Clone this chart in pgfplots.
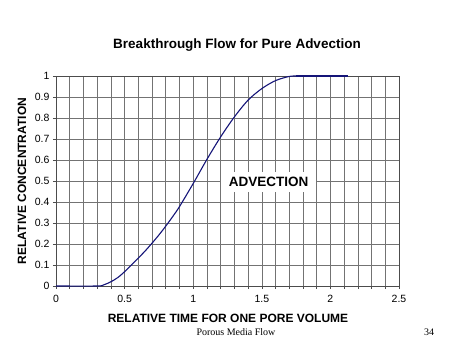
\documentclass[border=0pt]{standalone}
\usepackage{pgfplots}
\pgfplotsset{compat=1.18}
\usepackage{fontspec}
\setmainfont{Liberation Sans}
\newfontfamily\seriffont{Liberation Serif}
\definecolor{navy}{RGB}{20,20,120}
\begin{document}
\begin{tikzpicture}[x=1pt,y=1pt]
\path[use as bounding box] (-56,-69) rectangle (418,286);
\begin{axis}[
  at={(0,0)}, anchor=origin,
  scale only axis, width=343pt, height=210pt,
  xmin=0, xmax=2.5, ymin=0, ymax=1,
  xtick={0,0.5,...,2.5}, xticklabels={0,0.5,1,1.5,2,2.5},
  minor x tick num=4,
  ytick={0,0.1,...,1.0}, yticklabels={0,0.1,0.2,0.3,0.4,0.5,0.6,0.7,0.8,0.9,1},
  grid=both,
  major grid style={draw=black!55, line width=0.6pt},
  minor grid style={draw=black!55, line width=0.6pt},
  axis line style={draw=black!70, line width=0.7pt},
  tick align=outside, tick pos=left,
  major tick length=3pt, minor tick length=3pt,
  tick style={draw=black!70, line width=0.6pt},
  ticklabel style={font=\fontsize{10.5}{12}\selectfont},
  /pgf/number format/assume math mode=true,
  xticklabel style={yshift=-3pt},
  clip=false,
]
\addplot[navy, line width=1.1pt, smooth, tension=0.5] coordinates {
(0,0) (0.3,0) (0.35,0.006) (0.4,0.02) (0.45,0.04) (0.5,0.068) (0.55,0.1) (0.6,0.133) (0.65,0.167) (0.7,0.204) (0.75,0.243) (0.8,0.285) (0.85,0.33) (0.9,0.378) (1.0,0.488) (1.1,0.603) (1.2,0.71) (1.3,0.805) (1.4,0.885) (1.5,0.94) (1.6,0.978) (1.7,0.998) (1.75,1.0)
};
\addplot[navy, line width=1.1pt] coordinates {(1.75,1.0) (2.13,1.0)};
\node[fill=white, inner xsep=8pt, inner ysep=5pt, font=\fontsize{13.5}{15}\selectfont\bfseries] at (axis cs:1.55,0.495) {ADVECTION};
\end{axis}
\node[font=\fontsize{13.5}{15}\selectfont\bfseries] at (181,241) {Breakthrough Flow for Pure Advection};
\node[font=\fontsize{12}{14}\selectfont\bfseries] at (172,-32) {RELATIVE TIME FOR ONE PORE VOLUME};
\node[font=\fontsize{12}{14}\selectfont\bfseries, rotate=90] at (-34,105) {RELATIVE CONCENTRATION};
\node[font=\fontsize{10}{12}\selectfont\seriffont] at (180,-46) {Porous Media Flow};
\node[font=\fontsize{10}{12}\selectfont\seriffont] at (373,-46) {34};
\end{tikzpicture}
\end{document}
